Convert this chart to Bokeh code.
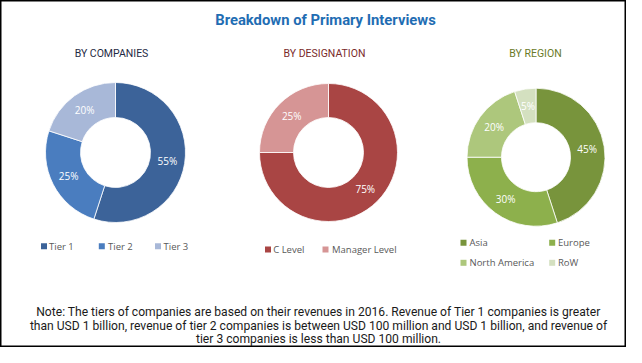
import math
from bokeh.plotting import figure
from bokeh.models import Range1d
from bokeh.core.properties import value
from bokeh.embed import file_html
from bokeh.resources import INLINE

# ---------------- data ----------------
title_text = "Breakdown of Primary Interviews"

company_labels = ["Tier 1", "Tier 2", "Tier 3"]
company_values = [55, 25, 20]

designation_labels = ["C Level", "Manager Level"]
designation_values = [75, 25]

region_labels = ["Asia", "Europe", "North America", "RoW"]
region_values = [45, 30, 20, 5]

subtitles = ["BY COMPANIES", "BY DESIGNATION", "BY REGION"]

note_lines = [
    "Note: The tiers of companies are based on their revenues in 2016. Revenue of Tier 1 companies is greater",
    "than USD 1 billion, revenue of tier 2 companies is between USD 100 million and USD 1 billion, and revenue of",
    "tier 3 companies is less than USD 100 million.",
]

# ---------------- styles ----------------
company_colors = ["#3c6399", "#4a7dbf", "#a8b8d8"]
designation_colors = ["#a94544", "#d69595"]
region_colors = ["#78943c", "#8db04c", "#adc77c", "#d4e0c0"]
subtitle_colors = ["#1f2a44", "#7a2a2a", "#6a7a28"]

W, H = 626, 347
NARROW = "Roboto"
LABEL_FONT = "Open Sans"


def Y(y_ref):
    # reference pixel y (top-down) -> data y (bottom-up)
    return H - y_ref


def X(x_ref):
    return x_ref


p = figure(width=W, height=H, output_backend="svg", toolbar_location=None,
           x_range=Range1d(0, W), y_range=Range1d(0, H),
           min_border=0, tools="")
p.axis.visible = False
p.grid.visible = False
p.outline_line_color = "#000000"
p.outline_line_width = 2
p.background_fill_color = "white"
p.border_fill_color = "white"

# title
p.text(x=[X(325)], y=[Y(19)], text=[title_text], text_align="center",
       text_baseline="middle", text_font=value(NARROW), text_font_style="bold",
       text_font_size="14.8px", text_color="#1f6db3")

# donuts
donuts = [
    dict(cx=115, cy=152, ro=70, ri=35, vals=company_values, cols=company_colors,
         labels=company_labels, sub_x=111,
         leg=[(43.5, 245.7, 48.5), (101.3, 245.7, 107.5), (157.5, 245.7, 163)]),
    dict(cx=328, cy=152, ro=69, ri=35, vals=designation_values, cols=designation_colors,
         labels=designation_labels, sub_x=324,
         leg=[(267.5, 249, 272.7), (325, 249, 331.5)]),
    dict(cx=535.5, cy=156.7, ro=69, ri=34.5, vals=region_values, cols=region_colors,
         labels=region_labels, sub_x=535,
         leg=[(463, 242.3, 469), (551.7, 242.3, 557.5), (463, 262.3, 469), (551.7, 262.3, 557.5)]),
]

for i, d in enumerate(donuts):
    total = float(sum(d["vals"]))
    starts, ends, lx, ly, ltxt = [], [], [], [], []
    a = math.pi / 2
    rm = (d["ro"] + d["ri"]) / 2.0
    for v in d["vals"]:
        sweep = 2 * math.pi * v / total
        starts.append(a)
        ends.append(a - sweep)
        mid = a - sweep / 2
        lx.append(X(d["cx"]) + rm * math.cos(mid))
        ly.append(Y(d["cy"]) + rm * math.sin(mid))
        ltxt.append(f"{v}%")
        a -= sweep
    n = len(d["vals"])
    p.annular_wedge(x=[X(d["cx"])] * n, y=[Y(d["cy"])] * n,
                    inner_radius=d["ri"], outer_radius=d["ro"],
                    start_angle=starts, end_angle=ends, direction="clock",
                    fill_color=d["cols"], line_color="white", line_width=0.8)
    p.text(x=lx, y=ly, text=ltxt, text_align="center", text_baseline="middle",
           text_font=value(LABEL_FONT), text_font_size="10px", text_color="white")
    # subtitle
    p.text(x=[X(d["sub_x"])], y=[Y(52.5)], text=[subtitles[i]], text_align="center",
           text_baseline="middle", text_font=value(NARROW),
           text_font_size="10.5px", text_color=subtitle_colors[i])
    # legend
    sx = [X(l[0]) for l in d["leg"]]
    sy = [Y(l[1]) for l in d["leg"]]
    tx = [X(l[2]) for l in d["leg"]]
    p.scatter(x=sx, y=sy, marker="square", size=6, fill_color=d["cols"],
              line_color=None)
    p.text(x=tx, y=sy, text=d["labels"], text_align="left", text_baseline="middle",
           text_font=value(LABEL_FONT), text_font_size="9.5px", text_color="#595959")

# note
for k, line in enumerate(note_lines):
    p.text(x=[X(318)], y=[Y(311.5 + 13.5 * k)], text=[line], text_align="center",
           text_baseline="middle", text_font=value(NARROW),
           text_font_size="12.1px", text_color="#1a1a1a")

open("out.html", "w").write(file_html(p, INLINE))
